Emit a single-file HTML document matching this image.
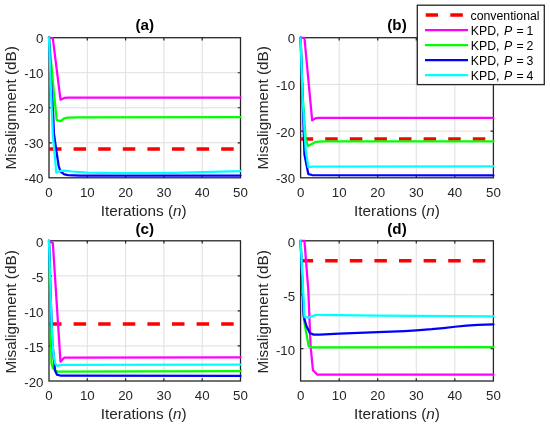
<!DOCTYPE html>
<html><head><meta charset="utf-8"><title>Misalignment vs iterations</title>
<style>
html,body{margin:0;padding:0;background:#fff;width:550px;height:425px;overflow:hidden;}
svg{display:block;}
text{font-family:'Liberation Sans', Arial, Helvetica, sans-serif;fill:#262626;}
.tk{font-size:13.3px;}
.lb{font-size:15.3px;}
.tt{font-size:15.2px;font-weight:bold;fill:#000;}
.lg{font-size:12.3px;fill:#000;}
</style></head><body>
<svg width="550" height="425" viewBox="0 0 550 425">
<rect width="550" height="425" fill="#fff"/>

<g id="ax-a">
<path d="M87.30 37.70V177.80 M125.60 37.70V177.80 M163.90 37.70V177.80 M202.20 37.70V177.80 M49.00 72.73H240.50 M49.00 107.75H240.50 M49.00 142.78H240.50" stroke="#dfdfdf" stroke-width="1" fill="none"/>
<path d="M87.30 177.80v-2.8M87.30 37.70v2.8M125.60 177.80v-2.8M125.60 37.70v2.8M163.90 177.80v-2.8M163.90 37.70v2.8M202.20 177.80v-2.8M202.20 37.70v2.8M49.00 72.73h2.8M240.50 72.73h-2.8M49.00 107.75h2.8M240.50 107.75h-2.8M49.00 142.78h2.8M240.50 142.78h-2.8" stroke="#262626" stroke-width="1.2" fill="none"/>
<rect x="49.00" y="37.70" width="191.50" height="140.10" fill="none" stroke="#262626" stroke-width="1.3"/>
<polyline points="49.00,149.08 240.50,149.08" fill="none" stroke="#ff0000" stroke-width="3.5" stroke-dasharray="12.5 12.1"/>
<polyline points="49.00,37.70 52.83,38.40 60.49,99.69 64.32,97.94 68.15,97.59 240.50,97.59" fill="none" stroke="#ff00ff" stroke-width="2.25" stroke-linejoin="round" stroke-linecap="round"/>
<polyline points="49.00,37.70 52.83,81.48 56.66,120.01 60.49,121.06 64.32,118.26 68.15,117.56 79.64,117.38 240.50,117.21" fill="none" stroke="#00ff00" stroke-width="2.25" stroke-linejoin="round" stroke-linecap="round"/>
<polyline points="49.00,37.70 50.91,79.73 53.02,111.25 53.98,134.02 56.47,151.53 58.58,165.54 60.49,171.50 64.32,174.30 68.15,175.17 79.64,175.52 240.50,175.52" fill="none" stroke="#0000ff" stroke-width="2.25" stroke-linejoin="round" stroke-linecap="round"/>
<polyline points="49.00,37.70 51.30,98.99 52.83,135.77 54.36,150.83 56.28,172.55 60.49,170.97 64.32,170.62 71.98,171.50 87.30,172.55 114.11,173.07 144.75,173.07 175.39,172.76 202.20,172.20 240.50,171.15" fill="none" stroke="#00ffff" stroke-width="2.25" stroke-linejoin="round" stroke-linecap="round"/>
<text class="tk" x="49.00" y="196.80" text-anchor="middle">0</text>
<text class="tk" x="87.30" y="196.80" text-anchor="middle">10</text>
<text class="tk" x="125.60" y="196.80" text-anchor="middle">20</text>
<text class="tk" x="163.90" y="196.80" text-anchor="middle">30</text>
<text class="tk" x="202.20" y="196.80" text-anchor="middle">40</text>
<text class="tk" x="240.50" y="196.80" text-anchor="middle">50</text>
<text class="tk" x="43.50" y="43.20" text-anchor="end">0</text>
<text class="tk" x="43.50" y="78.23" text-anchor="end">-10</text>
<text class="tk" x="43.50" y="113.25" text-anchor="end">-20</text>
<text class="tk" x="43.50" y="148.28" text-anchor="end">-30</text>
<text class="tk" x="43.50" y="183.30" text-anchor="end">-40</text>
<text class="lb" x="143.75" y="215.70" text-anchor="middle">Iterations (<tspan font-style="italic">n</tspan>)</text>
<text class="lb" transform="translate(16.00,107.75) rotate(-90)" x="0" y="0" text-anchor="middle">Misalignment (dB)</text>
<text class="tt" x="144.75" y="29.70" text-anchor="middle">(a)</text>
</g>
<g id="ax-b">
<path d="M339.16 37.70V177.80 M377.72 37.70V177.80 M416.28 37.70V177.80 M454.84 37.70V177.80 M300.60 84.40H493.40 M300.60 131.10H493.40" stroke="#dfdfdf" stroke-width="1" fill="none"/>
<path d="M339.16 177.80v-2.8M339.16 37.70v2.8M377.72 177.80v-2.8M377.72 37.70v2.8M416.28 177.80v-2.8M416.28 37.70v2.8M454.84 177.80v-2.8M454.84 37.70v2.8M300.60 84.40h2.8M493.40 84.40h-2.8M300.60 131.10h2.8M493.40 131.10h-2.8" stroke="#262626" stroke-width="1.2" fill="none"/>
<rect x="300.60" y="37.70" width="192.80" height="140.10" fill="none" stroke="#262626" stroke-width="1.3"/>
<polyline points="300.60,139.04 493.40,139.04" fill="none" stroke="#ff0000" stroke-width="3.5" stroke-dasharray="12.5 12.1"/>
<polyline points="300.60,37.70 304.46,38.17 312.17,120.36 316.02,118.02 319.88,117.79 493.40,117.79" fill="none" stroke="#ff00ff" stroke-width="2.25" stroke-linejoin="round" stroke-linecap="round"/>
<polyline points="300.60,37.70 302.53,93.74 305.61,138.11 307.93,146.04 312.17,143.71 316.02,141.84 323.74,141.37 493.40,141.37" fill="none" stroke="#00ff00" stroke-width="2.25" stroke-linejoin="round" stroke-linecap="round"/>
<polyline points="300.60,37.70 304.46,154.45 308.31,174.06 312.17,175.00 493.40,175.47" fill="none" stroke="#0000ff" stroke-width="2.25" stroke-linejoin="round" stroke-linecap="round"/>
<polyline points="300.60,37.70 302.53,95.14 303.92,119.89 305.69,149.78 308.31,167.06 312.17,166.59 493.40,166.36" fill="none" stroke="#00ffff" stroke-width="2.25" stroke-linejoin="round" stroke-linecap="round"/>
<text class="tk" x="300.60" y="196.80" text-anchor="middle">0</text>
<text class="tk" x="339.16" y="196.80" text-anchor="middle">10</text>
<text class="tk" x="377.72" y="196.80" text-anchor="middle">20</text>
<text class="tk" x="416.28" y="196.80" text-anchor="middle">30</text>
<text class="tk" x="454.84" y="196.80" text-anchor="middle">40</text>
<text class="tk" x="493.40" y="196.80" text-anchor="middle">50</text>
<text class="tk" x="295.10" y="43.20" text-anchor="end">0</text>
<text class="tk" x="295.10" y="89.90" text-anchor="end">-10</text>
<text class="tk" x="295.10" y="136.60" text-anchor="end">-20</text>
<text class="tk" x="295.10" y="183.30" text-anchor="end">-30</text>
<text class="lb" x="397.00" y="215.70" text-anchor="middle">Iterations (<tspan font-style="italic">n</tspan>)</text>
<text class="lb" transform="translate(267.60,107.75) rotate(-90)" x="0" y="0" text-anchor="middle">Misalignment (dB)</text>
<text class="tt" x="397.00" y="29.70" text-anchor="middle">(b)</text>
</g>
<g id="ax-c">
<path d="M87.30 240.80V381.00 M125.60 240.80V381.00 M163.90 240.80V381.00 M202.20 240.80V381.00 M49.00 275.85H240.50 M49.00 310.90H240.50 M49.00 345.95H240.50" stroke="#dfdfdf" stroke-width="1" fill="none"/>
<path d="M87.30 381.00v-2.8M87.30 240.80v2.8M125.60 381.00v-2.8M125.60 240.80v2.8M163.90 381.00v-2.8M163.90 240.80v2.8M202.20 381.00v-2.8M202.20 240.80v2.8M49.00 275.85h2.8M240.50 275.85h-2.8M49.00 310.90h2.8M240.50 310.90h-2.8M49.00 345.95h2.8M240.50 345.95h-2.8" stroke="#262626" stroke-width="1.2" fill="none"/>
<rect x="49.00" y="240.80" width="191.50" height="140.20" fill="none" stroke="#262626" stroke-width="1.3"/>
<polyline points="49.00,324.01 240.50,324.01" fill="none" stroke="#ff0000" stroke-width="3.5" stroke-dasharray="12.5 12.1"/>
<polyline points="49.00,240.80 52.83,242.90 60.49,361.72 64.32,357.52 240.50,357.31" fill="none" stroke="#ff00ff" stroke-width="2.25" stroke-linejoin="round" stroke-linecap="round"/>
<polyline points="49.00,240.80 51.49,363.48 52.83,368.03 57.43,371.54 240.50,371.19" fill="none" stroke="#00ff00" stroke-width="2.25" stroke-linejoin="round" stroke-linecap="round"/>
<polyline points="49.00,240.80 50.91,303.89 52.29,341.04 55.01,370.49 57.04,374.69 60.87,375.74 240.50,375.88" fill="none" stroke="#0000ff" stroke-width="2.25" stroke-linejoin="round" stroke-linecap="round"/>
<polyline points="49.00,240.80 50.91,303.89 52.29,339.99 53.60,355.06 55.13,363.48 57.43,365.93 60.49,364.88 240.50,364.53" fill="none" stroke="#00ffff" stroke-width="2.25" stroke-linejoin="round" stroke-linecap="round"/>
<text class="tk" x="49.00" y="400.00" text-anchor="middle">0</text>
<text class="tk" x="87.30" y="400.00" text-anchor="middle">10</text>
<text class="tk" x="125.60" y="400.00" text-anchor="middle">20</text>
<text class="tk" x="163.90" y="400.00" text-anchor="middle">30</text>
<text class="tk" x="202.20" y="400.00" text-anchor="middle">40</text>
<text class="tk" x="240.50" y="400.00" text-anchor="middle">50</text>
<text class="tk" x="43.50" y="246.80" text-anchor="end">0</text>
<text class="tk" x="43.50" y="281.85" text-anchor="end">-5</text>
<text class="tk" x="43.50" y="316.90" text-anchor="end">-10</text>
<text class="tk" x="43.50" y="351.95" text-anchor="end">-15</text>
<text class="tk" x="43.50" y="387.00" text-anchor="end">-20</text>
<text class="lb" x="143.75" y="418.90" text-anchor="middle">Iterations (<tspan font-style="italic">n</tspan>)</text>
<text class="lb" transform="translate(16.00,311.90) rotate(-90)" x="0" y="0" text-anchor="middle">Misalignment (dB)</text>
<text class="tt" x="144.75" y="233.60" text-anchor="middle">(c)</text>
</g>
<g id="ax-d">
<path d="M339.16 240.80V381.00 M377.72 240.80V381.00 M416.28 240.80V381.00 M454.84 240.80V381.00 M300.60 294.72H493.40 M300.60 348.65H493.40" stroke="#dfdfdf" stroke-width="1" fill="none"/>
<path d="M339.16 381.00v-2.8M339.16 240.80v2.8M377.72 381.00v-2.8M377.72 240.80v2.8M416.28 381.00v-2.8M416.28 240.80v2.8M454.84 381.00v-2.8M454.84 240.80v2.8M300.60 294.72h2.8M493.40 294.72h-2.8M300.60 348.65h2.8M493.40 348.65h-2.8" stroke="#262626" stroke-width="1.2" fill="none"/>
<rect x="300.60" y="240.80" width="192.80" height="140.20" fill="none" stroke="#262626" stroke-width="1.3"/>
<polyline points="300.60,260.64 493.40,260.64" fill="none" stroke="#ff0000" stroke-width="3.5" stroke-dasharray="12.5 12.1"/>
<polyline points="300.60,240.80 304.46,240.80 308.31,290.41 310.63,346.49 312.94,370.22 317.18,374.53 493.40,374.53" fill="none" stroke="#ff00ff" stroke-width="2.25" stroke-linejoin="round" stroke-linecap="round"/>
<polyline points="300.60,240.80 304.07,320.61 308.70,346.49 312.17,347.35 493.40,347.03" fill="none" stroke="#00ff00" stroke-width="2.25" stroke-linejoin="round" stroke-linecap="round"/>
<polyline points="300.60,240.80 303.68,316.29 306.38,326.00 309.85,333.01 313.71,334.63 319.88,334.52 339.16,333.55 377.72,332.15 404.71,331.07 416.28,330.42 431.70,329.23 443.27,328.05 454.84,326.75 466.41,325.67 477.98,324.92 493.40,324.38" fill="none" stroke="#0000ff" stroke-width="2.25" stroke-linejoin="round" stroke-linecap="round"/>
<polyline points="300.60,240.80 304.46,316.83 308.70,317.59 316.02,314.78 339.16,315.21 377.72,315.65 416.28,315.97 493.40,316.29" fill="none" stroke="#00ffff" stroke-width="2.25" stroke-linejoin="round" stroke-linecap="round"/>
<text class="tk" x="300.60" y="400.00" text-anchor="middle">0</text>
<text class="tk" x="339.16" y="400.00" text-anchor="middle">10</text>
<text class="tk" x="377.72" y="400.00" text-anchor="middle">20</text>
<text class="tk" x="416.28" y="400.00" text-anchor="middle">30</text>
<text class="tk" x="454.84" y="400.00" text-anchor="middle">40</text>
<text class="tk" x="493.40" y="400.00" text-anchor="middle">50</text>
<text class="tk" x="295.10" y="246.80" text-anchor="end">0</text>
<text class="tk" x="295.10" y="300.72" text-anchor="end">-5</text>
<text class="tk" x="295.10" y="354.65" text-anchor="end">-10</text>
<text class="lb" x="397.00" y="418.90" text-anchor="middle">Iterations (<tspan font-style="italic">n</tspan>)</text>
<text class="lb" transform="translate(267.60,311.90) rotate(-90)" x="0" y="0" text-anchor="middle">Misalignment (dB)</text>
<text class="tt" x="397.00" y="233.60" text-anchor="middle">(d)</text>
</g>
<g id="legend">
<rect x="417.3" y="5.2" width="127.00" height="79.40" fill="#fff" stroke="#262626" stroke-width="1.3"/>
<path d="M425.7 15.0H438M450.3 15.0H462.8" stroke="#ff0000" stroke-width="3.5"/>
<text class="lg" x="470.5" y="19.60">conventional</text>
<path d="M425 30.0H468" stroke="#ff00ff" stroke-width="2.25"/>
<text class="lg" x="470.8" y="34.50">KPD, <tspan font-style="italic" dx="1.1">P</tspan><tspan dx="0.8"> =</tspan><tspan dx="-0.6"> 1</tspan></text>
<path d="M425 45.0H468" stroke="#00ff00" stroke-width="2.25"/>
<text class="lg" x="470.8" y="49.50">KPD, <tspan font-style="italic" dx="1.1">P</tspan><tspan dx="0.8"> =</tspan><tspan dx="-0.6"> 2</tspan></text>
<path d="M425 60.0H468" stroke="#0000ff" stroke-width="2.25"/>
<text class="lg" x="470.8" y="64.50">KPD, <tspan font-style="italic" dx="1.1">P</tspan><tspan dx="0.8"> =</tspan><tspan dx="-0.6"> 3</tspan></text>
<path d="M425 75.0H468" stroke="#00ffff" stroke-width="2.25"/>
<text class="lg" x="470.8" y="79.50">KPD, <tspan font-style="italic" dx="1.1">P</tspan><tspan dx="0.8"> =</tspan><tspan dx="-0.6"> 4</tspan></text>
</g>
</svg>
</body></html>
